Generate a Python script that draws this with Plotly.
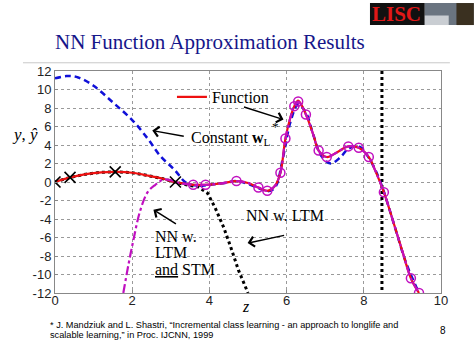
import plotly.graph_objects as go

# ---------------- data ----------------
func_x = [0, 0.4, 0.8, 1.2, 1.6, 2.0, 2.4, 2.8, 3.1, 3.4, 3.6, 3.9, 4.3, 4.7, 5.0, 5.27, 5.5, 5.7, 5.84,
          5.97, 6.1, 6.2, 6.3, 6.5, 6.7, 6.83, 7.04, 7.3, 7.6, 7.87, 8.13, 8.3, 8.52, 8.8, 9.0, 9.22, 9.43]
func_y = [0, 0.5, 0.85, 1.05, 1.1, 1.0, 0.7, 0.35, 0.0, -0.2, -0.3, -0.3, -0.15, 0.1, -0.1, -0.6, -0.95, -0.4, 1.0,
          4.7, 7.0, 8.2, 8.8, 7.3, 5.0, 3.4, 2.7, 3.2, 3.85, 3.7, 2.7, 1.2, -1.1, -4.8, -7.5, -10.4, -12]

const_x = [0, 0.3, 0.6, 1.0, 1.5, 2.0, 2.4, 2.73, 3.1, 3.4, 3.7, 4.0, 4.4, 4.7, 5.0, 5.3, 5.5, 5.7, 5.9,
           6.1, 6.3, 6.5, 6.7, 6.9, 7.14, 7.4, 7.6, 7.9, 8.1, 8.3, 8.5, 8.8, 9.1, 9.43]
const_y = [11.2, 11.45, 11.3, 10.4, 8.6, 6.7, 4.7, 2.8, 1.3, -0.1, -0.4, -0.3, -0.1, 0.1, -0.2, -0.7, -1.0, -0.6, 2.5,
           6.5, 8.4, 7.5, 5.0, 2.8, 2.0, 2.7, 3.6, 3.8, 2.8, 1.3, -0.8, -4.8, -8.8, -12]

ltm_x = [0, 0.4, 0.8, 1.2, 1.6, 2.0, 2.4, 2.8, 3.1, 3.4, 3.7, 3.95, 4.15, 4.37, 4.55, 4.75, 4.9, 5.0,
         None, 8.47, 8.47]
ltm_y = [0, 0.5, 0.85, 1.05, 1.1, 1.0, 0.7, 0.35, 0.0, -0.3, -0.5, -1.2, -2.8, -4.9, -7.0, -9.5, -11.0, -12,
         None, 12, -12]

stm_x = [1.77, 1.9, 2.03, 2.2, 2.4, 2.6, 2.8, 3.0, 3.2, 3.58, 3.9, 4.3, 4.7, 5.0, 5.27, 5.5, 5.7, 5.84, 5.97,
         6.1, 6.2, 6.3, 6.5, 6.7, 6.83, 7.04, 7.3, 7.6, 7.87, 8.13, 8.3, 8.52, 8.8, 9.0, 9.22, 9.43]
stm_y = [-12, -9.0, -6.3, -3.2, -1.1, -0.3, 0.25, 0.2, -0.1, -0.3, -0.3, -0.15, 0.1, -0.1, -0.6, -0.95, -0.4, 1.0, 4.7,
         7.0, 8.2, 8.7, 7.3, 5.0, 3.4, 2.7, 3.2, 3.85, 3.7, 2.7, 1.2, -1.1, -4.8, -7.5, -10.4, -12]

circ_x = [3.58, 3.9, 4.7, 5.27, 5.5, 5.84, 5.97, 6.2, 6.3, 6.5, 6.83, 7.04, 7.6, 7.87, 8.13, 8.52, 9.22, 9.43]
circ_y = [-0.3, -0.3, 0.1, -0.6, -0.95, 1.0, 4.7, 8.2, 8.7, 7.3, 3.4, 2.7, 3.85, 3.7, 2.7, -1.1, -10.4, -12]

cross_x = [0, 0.39, 1.56, 3.12]
cross_y = [0, 0.5, 1.1, 0.0]

x_ticks = [0, 2, 4, 6, 8, 10]
y_ticks = [12, 10, 8, 6, 4, 2, 0, -2, -4, -6, -8, -10, -12]

title_text = "NN Function Approximation Results"
ref_line1 = "* J. Mandziuk and L. Shastri, \u201cIncremental class learning - an approach to longlife and"
ref_line2 = "scalable learning,\u201d in Proc. IJCNN, 1999"

SERIF = "Liberation Serif, Times New Roman, serif"
SANS = "Liberation Sans, Arial, sans-serif"

fig = go.Figure()
fig.add_trace(go.Scatter(x=ltm_x, y=ltm_y, mode="lines", showlegend=False,
                         line=dict(color="black", width=3, dash="dot")))
fig.add_trace(go.Scatter(x=const_x, y=const_y, mode="lines", showlegend=False, line_shape="spline",
                         line=dict(color="#1010d8", width=2.5, dash="6px,4px")))
fig.add_trace(go.Scatter(x=func_x, y=func_y, mode="lines", name="Function", showlegend=True,
                         line_shape="spline", line=dict(color="#ee1010", width=2.2)))
fig.add_trace(go.Scatter(x=stm_x, y=stm_y, mode="lines", showlegend=False, line_shape="spline",
                         line=dict(color="#c010c0", width=2.2, dash="dashdot")))
fig.add_trace(go.Scatter(x=circ_x, y=circ_y, mode="markers", showlegend=False,
                         marker=dict(symbol="circle-open", size=9, color="#c010c0", line=dict(width=1.5))))
fig.add_trace(go.Scatter(x=cross_x, y=cross_y, mode="markers", showlegend=False,
                         marker=dict(symbol="x-thin", size=11, color="black", line=dict(width=1.6, color="black"))))

ax_common = dict(showgrid=True, gridcolor="#9a9a9a", griddash="dot", gridwidth=1,
                 showline=True, linecolor="#888888", linewidth=1, mirror=True,
                 ticks="inside", ticklen=3, tickcolor="#888888", zeroline=False,
                 tickfont=dict(family=SANS, size=13, color="#222222"))
fig.update_xaxes(range=[0, 10], tickvals=x_ticks, ticktext=[str(v) for v in x_ticks],
                 ticklabelstandoff=-5, **ax_common)
fig.update_yaxes(range=[-12, 12], tickvals=y_ticks, ticktext=[str(v) for v in y_ticks], **ax_common)

TXT = dict(family=SERIF, size=16, color="black")
annotations = [
    dict(text=title_text, x=-0.005, y=1.13, xref="paper", yref="paper", xanchor="left", yanchor="middle",
         showarrow=False, font=dict(family=SERIF, size=21, color="#16168a")),
    dict(text="Constant <b>w</b><sub>L</sub>", x=0.347, y=0.694, xref="paper", yref="paper",
         xanchor="left", yanchor="middle", showarrow=False, font=TXT),
    dict(text="*", x=0.572, y=0.752, xref="paper", yref="paper",
         xanchor="center", yanchor="middle", showarrow=False, font=dict(family=SERIF, size=13, color="black")),
    dict(text="NN w. LTM", x=0.49, y=0.351, xref="paper", yref="paper",
         xanchor="left", yanchor="middle", showarrow=False, font=TXT),
    dict(text="NN w.", x=0.254, y=0.254, xref="paper", yref="paper",
         xanchor="left", yanchor="middle", showarrow=False, font=TXT),
    dict(text="LTM", x=0.254, y=0.182, xref="paper", yref="paper",
         xanchor="left", yanchor="middle", showarrow=False, font=TXT),
    dict(text="<u>and</u> STM", x=0.254, y=0.108, xref="paper", yref="paper",
         xanchor="left", yanchor="middle", showarrow=False, font=TXT),
    dict(text="<i>y</i>, <i>\u0177</i>", x=-0.117, y=0.712, xref="paper", yref="paper",
         xanchor="left", yanchor="middle", showarrow=False, font=dict(family=SERIF, size=17, color="black")),
    dict(text="<i>z</i>", x=0.495, y=-0.062, xref="paper", yref="paper",
         xanchor="center", yanchor="middle", showarrow=False, font=dict(family=SERIF, size=16, color="black")),
    dict(text=ref_line1, x=-0.018, y=-0.144, xref="paper", yref="paper",
         xanchor="left", yanchor="middle", showarrow=False, font=dict(family=SANS, size=9.2, color="black")),
    dict(text=ref_line2, x=-0.018, y=-0.189, xref="paper", yref="paper",
         xanchor="left", yanchor="middle", showarrow=False, font=dict(family=SANS, size=9.2, color="black")),
    dict(text="8", x=1.005, y=-0.171, xref="paper", yref="paper",
         xanchor="center", yanchor="middle", showarrow=False, font=dict(family=SANS, size=10, color="black")),
    dict(text="<b>LISC</b>", x=0.885, y=1.256, xref="paper", yref="paper",
         xanchor="center", yanchor="middle", showarrow=False, font=dict(family=SERIF, size=21, color="#e01818")),
    # arrows
    dict(text="", x=5.92, y=6.75, ax=-41, ay=-13, showarrow=True, arrowhead=4, arrowsize=1.3,
         arrowwidth=1.5, arrowcolor="black"),
    dict(text="", x=2.52, y=5.56, ax=33, ay=6, showarrow=True, arrowhead=4, arrowsize=1.3,
         arrowwidth=1.5, arrowcolor="black"),
    dict(text="", x=4.99, y=-6.6, ax=38, ay=-8, showarrow=True, arrowhead=4, arrowsize=1.3,
         arrowwidth=1.5, arrowcolor="black"),
    dict(text="", x=2.55, y=-3.0, ax=24, ay=15, showarrow=True, arrowhead=4, arrowsize=1.3,
         arrowwidth=1.5, arrowcolor="black"),
]

shapes = [
    dict(type="line", xref="paper", yref="paper", x0=-0.083, x1=1.023, y0=1.037, y1=1.037,
         line=dict(color="#c8c8c8", width=1)),
    dict(type="rect", xref="paper", yref="paper", x0=0.816, x1=0.958, y0=1.207, y1=1.306,
         fillcolor="#111111", line=dict(width=0)),
    dict(type="rect", xref="paper", yref="paper", x0=0.958, x1=1.085, y0=1.207, y1=1.306,
         fillcolor="#6a7480", line=dict(width=0)),
    dict(type="rect", xref="paper", yref="paper", x0=0.958, x1=1.02, y0=1.207, y1=1.25,
         fillcolor="#c9cdd2", line=dict(width=0)),
    dict(type="rect", xref="paper", yref="paper", x0=1.04, x1=1.085, y0=1.207, y1=1.306,
         fillcolor="#3a3020", line=dict(width=0)),
]

fig.update_layout(
    width=474, height=355, autosize=False,
    margin=dict(l=55, r=33, t=71, b=62),
    paper_bgcolor="white", plot_bgcolor="white",
    showlegend=True,
    legend=dict(x=0.303, y=0.883, xanchor="left", yanchor="middle", bgcolor="rgba(0,0,0,0)",
                font=dict(family=SERIF, size=16, color="black"), borderwidth=0),
    annotations=annotations, shapes=shapes,
)

fig.write_html("out.html", config={"displayModeBar": False},
               post_script="document.body.style.margin='0';document.body.style.overflow='hidden';")
